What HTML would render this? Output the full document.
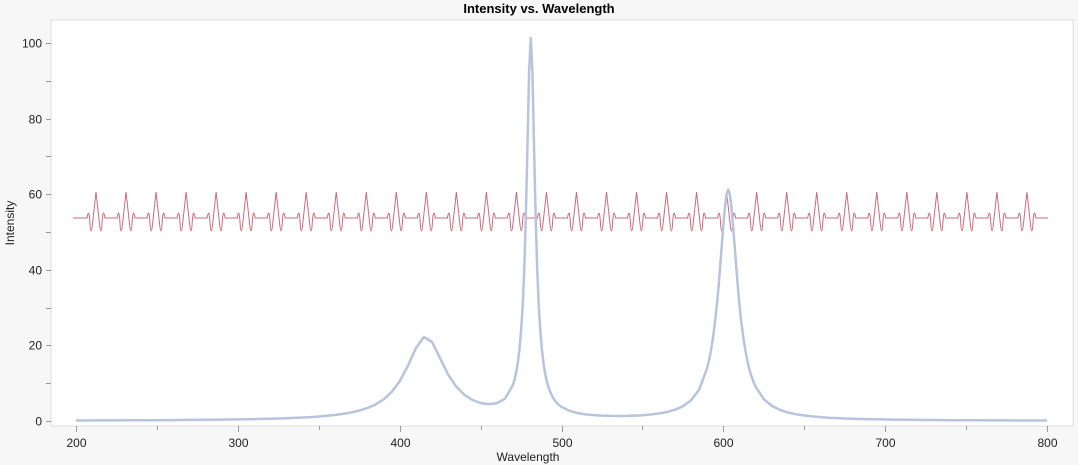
<!DOCTYPE html>
<html><head><meta charset="utf-8"><style>
html,body{margin:0;padding:0;background:#f7f7f7;}
svg{display:block;font-family:"Liberation Sans",sans-serif;}
</style></head><body>
<svg id="s" width="1078" height="465" xmlns="http://www.w3.org/2000/svg">
<rect x="0" y="0" width="1078" height="465" fill="#f7f7f7"/>
<text x="539" y="13" text-anchor="middle" font-size="13" font-weight="bold" fill="#000">Intensity vs. Wavelength</text>
<rect x="51" y="20" width="1022" height="406" fill="#fff" stroke="#dcdcdc" stroke-width="1"/>
<g id="ax" stroke="#999" stroke-width="1"></g>
<g id="lb" font-size="12" fill="#222"></g>
<text x="528" y="461" text-anchor="middle" font-size="12" fill="#222">Wavelength</text>
<text transform="translate(14,223) rotate(-90)" text-anchor="middle" font-size="12" fill="#222">Intensity</text>
<path id="red" fill="none" stroke="#c9586e" stroke-width="1" opacity="0.9"/>
<path id="blue" fill="none" stroke="#b8c4dc" stroke-width="2.5" stroke-linejoin="round"/>
</svg>
<script>
var X=function(w){return 76+(w-200)*(1047-76)/600;};
var Y=function(v){return 421-v*3.78;};
var ax=document.getElementById('ax'),lb=document.getElementById('lb'),ns='http://www.w3.org/2000/svg';
function ln(x1,y1,x2,y2){var l=document.createElementNS(ns,'line');l.setAttribute('x1',x1);l.setAttribute('y1',y1);l.setAttribute('x2',x2);l.setAttribute('y2',y2);ax.appendChild(l);}
function tx(x,y,t,a){var e=document.createElementNS(ns,'text');e.setAttribute('x',x);e.setAttribute('y',y);e.setAttribute('text-anchor',a);e.textContent=t;lb.appendChild(e);}
for(var v=0;v<=100;v+=10){var y=Math.round(Y(v))+0.5;ln(46,y,51,y);if(v%20==0)tx(42,y+4,v,'end');}
for(var w=200;w<=800;w+=50){var x=Math.round(X(w))+0.5;ln(x,426,x,w%100==0?432:430);if(w%100==0)tx(x,447,w,'middle');}
// blue
var d='';
for(var w=200;w<=800;w+=(w>465&&w<500)||(w>585&&w<620)?1:5){
var v=22/(1+Math.pow((w-416)/15,2))+100/(1+Math.pow((w-481)/3.2,2))+61/(1+Math.pow((w-603)/7,2));
d+=(d?'L':'M')+X(w).toFixed(1)+' '+Y(v).toFixed(1);}
document.getElementById('blue').setAttribute('d',d);
// red
var r='M73 218';var b=218;
for(var k=0;k<32;k++){var c=96+k*30.03;
r+='L'+(c-9)+' '+b+'Q'+(c-7)+' '+(b-12)+' '+(c-6)+' '+(b+6)+'Q'+(c-5)+' '+(b+20)+' '+(c-3.5)+' '+(b+6)+'L'+c+' '+(b-26)+'L'+(c+3.5)+' '+(b+6)+'Q'+(c+5)+' '+(b+20)+' '+(c+6)+' '+(b+6)+'Q'+(c+7)+' '+(b-12)+' '+(c+9)+' '+b;}
r+='L1048 '+b;
document.getElementById('red').setAttribute('d',r);
</script>
</body></html>
